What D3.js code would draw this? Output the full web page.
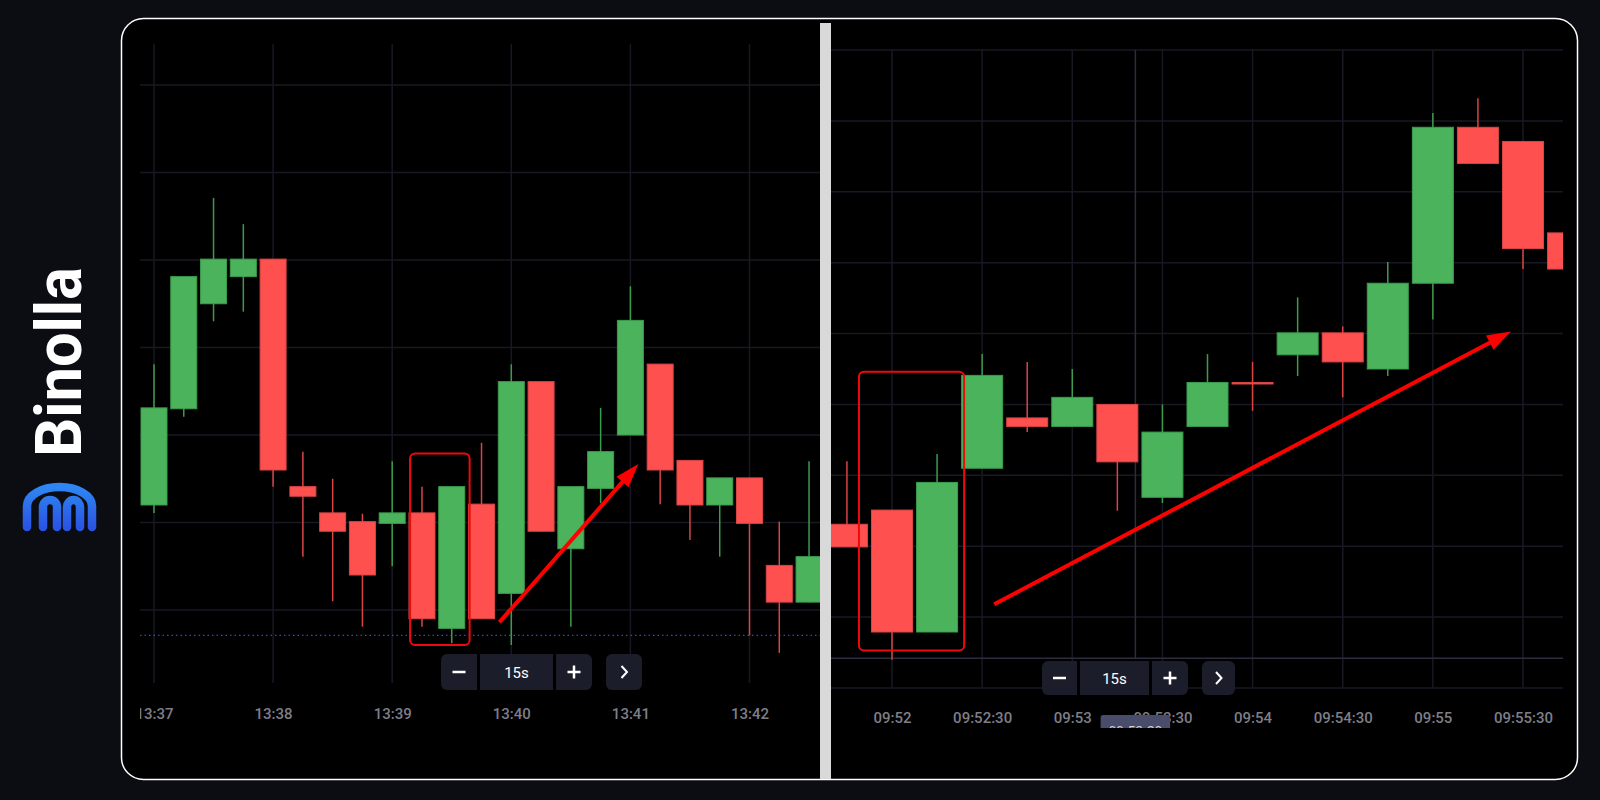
<!DOCTYPE html>
<html>
<head>
<meta charset="utf-8">
<script src="https://d3js.org/d3.v7.min.js"></script>
<style>
  body { margin: 0; background: #0b0d13; }
  text { font-family: Roboto, "Noto Sans", sans-serif; }
  .tlabels text { fill: #7e7e87; font-size: 15px; font-weight: 500; }
</style>
</head>
<body>
<script>
// ---- left chart: 15s candles, 13:37 .. 13:42 (price in chart units, 10 = one grid step)
var leftTimes = ["13:37:00","13:37:15","13:37:30","13:37:45","13:38:00","13:38:15","13:38:30","13:38:45",
                 "13:39:00","13:39:15","13:39:30","13:39:45","13:40:00","13:40:15","13:40:30","13:40:45",
                 "13:41:00","13:41:15","13:41:30","13:41:45","13:42:00","13:42:15","13:42:30"]
var leftOpen  = [12.0, 23.0, 35.0, 38.1, 40.1, 14.1, 11.1, 10.1, 9.9, 11.1, -2.1, 12.1, 1.9, 26.1, 7.0, 13.9, 20.0, 28.1, 17.1, 12.0, 15.1, 5.1, 0.9]
var leftClose = [23.1, 38.1, 40.1, 40.1, 16.0, 13.0, 9.0, 4.0, 11.1, -1.0, 14.1, -1.0, 26.1, 9.0, 14.1, 18.1, 33.1, 16.0, 12.0, 15.1, 9.9, 0.9, 6.1]
var leftHigh  = [28.1, 38.1, 47.1, 44.1, 40.1, 18.1, 15.0, 11.0, 17.0, 14.1, 14.1, 19.1, 28.1, 26.1, 14.1, 23.1, 37.0, 28.1, 17.1, 15.1, 15.1, 10.1, 17.0]
var leftLow   = [11.1, 22.1, 33.0, 34.1, 14.1, 6.1, 1.0, -1.9, 5.0, -1.9, -3.8, -1.0, -4.0, 9.0, -1.9, 12.2, 20.0, 12.1, 8.0, 6.1, -2.9, -4.9, 0.9]
var leftTicks = ["13:37","13:38","13:39","13:40","13:41","13:42"]
var leftPriceTicks = [0, 10, 20, 30, 40, 50, 60]
var leftCurrentPrice = -2.9
var leftBox = ["13:39:09", "13:39:39", 17.9, -4.0]
var leftArrow = ["13:39:54", -1.4, "13:41:04", 16.7]

// ---- right chart: 15s candles, 09:51:45 .. 09:55:45
var rightTimes = ["09:51:45","09:52:00","09:52:15","09:52:30","09:52:45","09:53:00","09:53:15","09:53:30","09:53:45",
                  "09:54:00","09:54:15","09:54:30","09:54:45","09:55:00","09:55:15","09:55:30","09:55:45"]
var rightOpen  = [13.1, 15.1, -2.1, 21.0, 28.1, 26.9, 30.0, 16.9, 26.9, 33.1, 37.0, 40.1, 35.0, 47.1, 69.1, 67.1, 54.2]
var rightClose = [9.9, -2.1, 19.0, 34.1, 26.9, 31.0, 21.9, 26.1, 33.1, 32.9, 40.1, 36.0, 47.1, 69.1, 64.0, 52.0, 49.1]
var rightHigh  = [22.0, 15.1, 23.0, 37.1, 36.0, 35.0, 30.0, 30.0, 37.1, 36.0, 45.1, 41.0, 50.1, 71.1, 73.2, 67.1, 54.2]
var rightLow   = [9.9, -6.0, -2.1, 21.0, 26.1, 26.9, 15.0, 16.1, 26.9, 29.1, 34.0, 31.0, 34.0, 42.0, 64.0, 49.1, 49.1]
var rightTicks = ["09:52","09:52:30","09:53","09:53:30","09:54","09:54:30","09:55","09:55:30"]
var rightPriceTicks = [-10, 0, 10, 20, 30, 40, 50, 60, 70, 80]
var rightCrosshair = ["09:53:21", -5.8]
var rightBox = ["09:51:49", "09:52:24", 34.6, -4.7]
var rightArrow = ["09:52:34", 1.8, "09:55:26", 40.3]

var parseT = d3.timeParse("%H:%M:%S")
function pt(s){ return parseT(s.length == 5 ? s + ":00" : s) }

var W = 1600, H = 800
var svg = d3.select("body").append("svg").attr("width", W).attr("height", H)
var defs = svg.append("defs")

// frame
svg.append("rect").attr("x", 121.5).attr("y", 18.5).attr("width", 1456).attr("height", 761)
  .attr("rx", 22).attr("fill", "#000").attr("stroke", "#fff").attr("stroke-width", 1.5)

var upFill = "#4ab35c", upLine = "#3c9c4d", downFill = "#ff5050", downLine = "#d94545"

function drawPanel(p){
  defs.append("clipPath").attr("id", p.id).append("rect")
    .attr("x", p.clip[0]).attr("y", p.clip[1]).attr("width", p.clip[2]).attr("height", p.clip[3])
  var g = svg.append("g").attr("clip-path", "url(#" + p.id + ")")

  var x = d3.scaleTime().domain(p.tdomain.map(pt)).range(p.xrange)
  var y = d3.scaleLinear().domain(p.ydomain).range(p.yrange)

  // grid
  g.append("g").selectAll("line").data(p.priceTicks).enter().append("line")
    .attr("x1", p.gridX[0]).attr("x2", p.gridX[1])
    .attr("y1", function(d){ return y(d) }).attr("y2", function(d){ return y(d) })
    .attr("stroke", "#181824").attr("stroke-width", 1.5)
  g.append("g").selectAll("line").data(p.ticks).enter().append("line")
    .attr("x1", function(d){ return x(pt(d)) }).attr("x2", function(d){ return x(pt(d)) })
    .attr("y1", p.gridY[0]).attr("y2", p.gridY[1])
    .attr("stroke", "#181824").attr("stroke-width", 1.5)

  if (p.cross){
    var cx = x(pt(p.cross[0])), cy = y(p.cross[1])
    g.append("line").attr("x1", cx).attr("x2", cx).attr("y1", p.gridY[0]).attr("y2", cy)
      .attr("stroke", "#2b2c3d").attr("stroke-width", 1.5)
    g.append("line").attr("x1", p.gridX[0]).attr("x2", p.gridX[1]).attr("y1", cy).attr("y2", cy)
      .attr("stroke", "#2b2c3d").attr("stroke-width", 1.5)
  }
  if (p.current != null){
    g.append("line").attr("x1", p.gridX[0]).attr("x2", p.gridX[1])
      .attr("y1", y(p.current)).attr("y2", y(p.current))
      .attr("stroke", "#3347c8").attr("stroke-width", 1.2).attr("stroke-dasharray", "1.5,3")
  }

  // time labels
  var axis = g.append("g").classed("tlabels", true)
    .attr("transform", "translate(0," + (p.labelY - 10.6) + ")")
    .call(d3.axisBottom(x).tickValues(p.ticks.map(pt)).tickSize(0).tickPadding(0)
      .tickFormat(function(d, i){ return p.ticks[i] }))
  axis.select(".domain").remove()

  // candles
  var data = p.times.map(function(t, i){
    return {t: pt(t), o: p.open[i], c: p.close[i], h: p.high[i], l: p.low[i]}
  })
  var c = g.append("g").selectAll("g").data(data).enter().append("g")
  c.append("line")
    .attr("x1", function(d){ return x(d.t) }).attr("x2", function(d){ return x(d.t) })
    .attr("y1", function(d){ return y(d.h) }).attr("y2", function(d){ return y(d.l) })
    .attr("stroke", function(d){ return d.c >= d.o ? upLine : downLine }).attr("stroke-width", 1.5)
  c.append("rect")
    .attr("x", function(d){ return x(d.t) - p.bodyW / 2 })
    .attr("width", p.bodyW)
    .attr("y", function(d){ return y(Math.max(d.o, d.c)) })
    .attr("height", function(d){ return Math.max(1.5, Math.abs(y(d.o) - y(d.c))) })
    .attr("fill", function(d){ return d.c >= d.o ? upFill : downFill })
    .attr("stroke", function(d){ return d.c >= d.o ? upLine : downLine }).attr("stroke-width", 1)

  // highlight box
  var b = p.box
  g.append("rect").attr("x", x(pt(b[0]))).attr("y", y(b[2]))
    .attr("width", x(pt(b[1])) - x(pt(b[0]))).attr("height", y(b[3]) - y(b[2]))
    .attr("rx", 5).attr("fill", "none").attr("stroke", "#ee0a0a").attr("stroke-width", 2)

  // arrow
  var a = p.arrow
  var x1 = x(pt(a[0])), y1 = y(a[1]), x2 = x(pt(a[2])), y2 = y(a[3])
  var len = Math.hypot(x2 - x1, y2 - y1), ux = (x2 - x1) / len, uy = (y2 - y1) / len
  var hl = 24, hw = 8
  var bx = x2 - ux * hl, by = y2 - uy * hl
  g.append("line").attr("x1", x1).attr("y1", y1).attr("x2", bx + ux * 2).attr("y2", by + uy * 2)
    .attr("stroke", "#f00").attr("stroke-width", 4)
  g.append("path")
    .attr("d", "M" + x2 + "," + y2 + "L" + (bx - uy * hw) + "," + (by + ux * hw) + "L" + (bx + uy * hw) + "," + (by - ux * hw) + "Z")
    .attr("fill", "#f00")

  // crosshair time tag
  if (p.cross){
    var tx = x(pt(p.cross[0]))
    defs.append("clipPath").attr("id", p.id + "tag").append("rect")
      .attr("x", tx - 35).attr("y", 715).attr("width", 70).attr("height", 13)
    var tg = g.append("g").attr("clip-path", "url(#" + p.id + "tag)")
    tg.append("rect").attr("x", tx - 35).attr("y", 715).attr("width", 70).attr("height", 18)
      .attr("rx", 3).attr("fill", "#4a4c6c")
    tg.append("text").attr("x", tx).attr("y", 737).attr("text-anchor", "middle")
      .attr("fill", "#d0d0dc").attr("font-size", 14).text(p.cross[0].slice(0, 8).replace(/:\d\d$/, ":20"))
  }
  return g
}

function drawControls(x0, y0, w, h){
  var g = svg.append("g")
  var fill = "#1c1d2a"
  var xs = [x0, x0 + w[0] + 3, x0 + w[0] + w[1] + 6, x0 + w[0] + w[1] + w[2] + 20]
  g.append("rect").attr("x", xs[0]).attr("y", y0).attr("width", xs[2] + w[2] - xs[0]).attr("height", h)
    .attr("rx", 6).attr("fill", fill)
  g.append("rect").attr("x", xs[1] - 3).attr("y", y0).attr("width", 3).attr("height", h).attr("fill", "#000")
  g.append("rect").attr("x", xs[2] - 3).attr("y", y0).attr("width", 3).attr("height", h).attr("fill", "#000")
  g.append("rect").attr("x", xs[3]).attr("y", y0).attr("width", w[3]).attr("height", h)
    .attr("rx", 6).attr("fill", fill)
  var cy = y0 + h / 2
  var mx = xs[0] + w[0] / 2
  g.append("line").attr("x1", mx - 6.5).attr("x2", mx + 6.5).attr("y1", cy).attr("y2", cy)
    .attr("stroke", "#fff").attr("stroke-width", 2.5)
  g.append("text").attr("x", xs[1] + w[1] / 2).attr("y", cy + 5.5).attr("text-anchor", "middle")
    .attr("fill", "#fff").attr("font-size", 15).text("15s")
  var px = xs[2] + w[2] / 2
  g.append("path").attr("d", "M" + (px - 6.5) + "," + cy + "H" + (px + 6.5) + "M" + px + "," + (cy - 6.5) + "V" + (cy + 6.5))
    .attr("stroke", "#fff").attr("stroke-width", 2.5)
  var vx = xs[3] + w[3] / 2
  g.append("path").attr("d", "M" + (vx - 2.5) + "," + (cy - 6) + "L" + (vx + 3) + "," + cy + "L" + (vx - 2.5) + "," + (cy + 6))
    .attr("fill", "none").attr("stroke", "#fff").attr("stroke-width", 2)
}

drawPanel({
  id: "clipL", clip: [140, 19, 680, 760],
  times: leftTimes, open: leftOpen, close: leftClose, high: leftHigh, low: leftLow,
  ticks: leftTicks, priceTicks: leftPriceTicks,
  tdomain: ["13:37", "13:42"], xrange: [154, 749.5],
  ydomain: [0, 60], yrange: [610, 85],
  gridX: [140, 820], gridY: [44, 683], labelY: 719, bodyW: 26,
  current: leftCurrentPrice, box: leftBox, arrow: leftArrow
})
drawPanel({
  id: "clipR", clip: [831, 19, 732, 760],
  times: rightTimes, open: rightOpen, close: rightClose, high: rightHigh, low: rightLow,
  ticks: rightTicks, priceTicks: rightPriceTicks,
  tdomain: ["09:52", "09:55:30"], xrange: [892, 1523],
  ydomain: [-10, 80], yrange: [688, 50],
  gridX: [831, 1563], gridY: [50, 688], labelY: 723, bodyW: 41,
  cross: rightCrosshair, box: rightBox, arrow: rightArrow
})

drawControls(441, 654, [36, 73, 36, 36], 36)
drawControls(1042, 661, [35, 69, 36, 33], 34)

// divider between the two screenshots
svg.append("rect").attr("x", 820).attr("y", 23).attr("width", 11).attr("height", 756).attr("fill", "#d9d9d9")

// logo
var grad = defs.append("linearGradient").attr("id", "logoGrad")
  .attr("x1", 0).attr("y1", 0).attr("x2", 0).attr("y2", 1)
grad.append("stop").attr("offset", "0%").attr("stop-color", "#2f86f2")
grad.append("stop").attr("offset", "100%").attr("stop-color", "#2a55e4")
var logo = svg.append("g")
logo.append("text").attr("transform", "translate(81,457) rotate(-90)")
  .attr("fill", "#fff").attr("font-family", "Inter, Roboto, sans-serif").attr("font-weight", 700)
  .attr("font-size", 64).attr("textLength", 190).attr("lengthAdjust", "spacingAndGlyphs").text("Binolla")
logo.append("path")
  .attr("d", "M27,527 V506 A32.5,19 0 0 1 92,506 V527 M43,527 V507 A7,7 0 0 1 57,507 V527 M67,527 V507 A6.5,7 0 0 1 80,507 V527")
  .attr("fill", "none").attr("stroke", "url(#logoGrad)").attr("stroke-width", 8.5).attr("stroke-linecap", "round")
</script>
</body>
</html>
